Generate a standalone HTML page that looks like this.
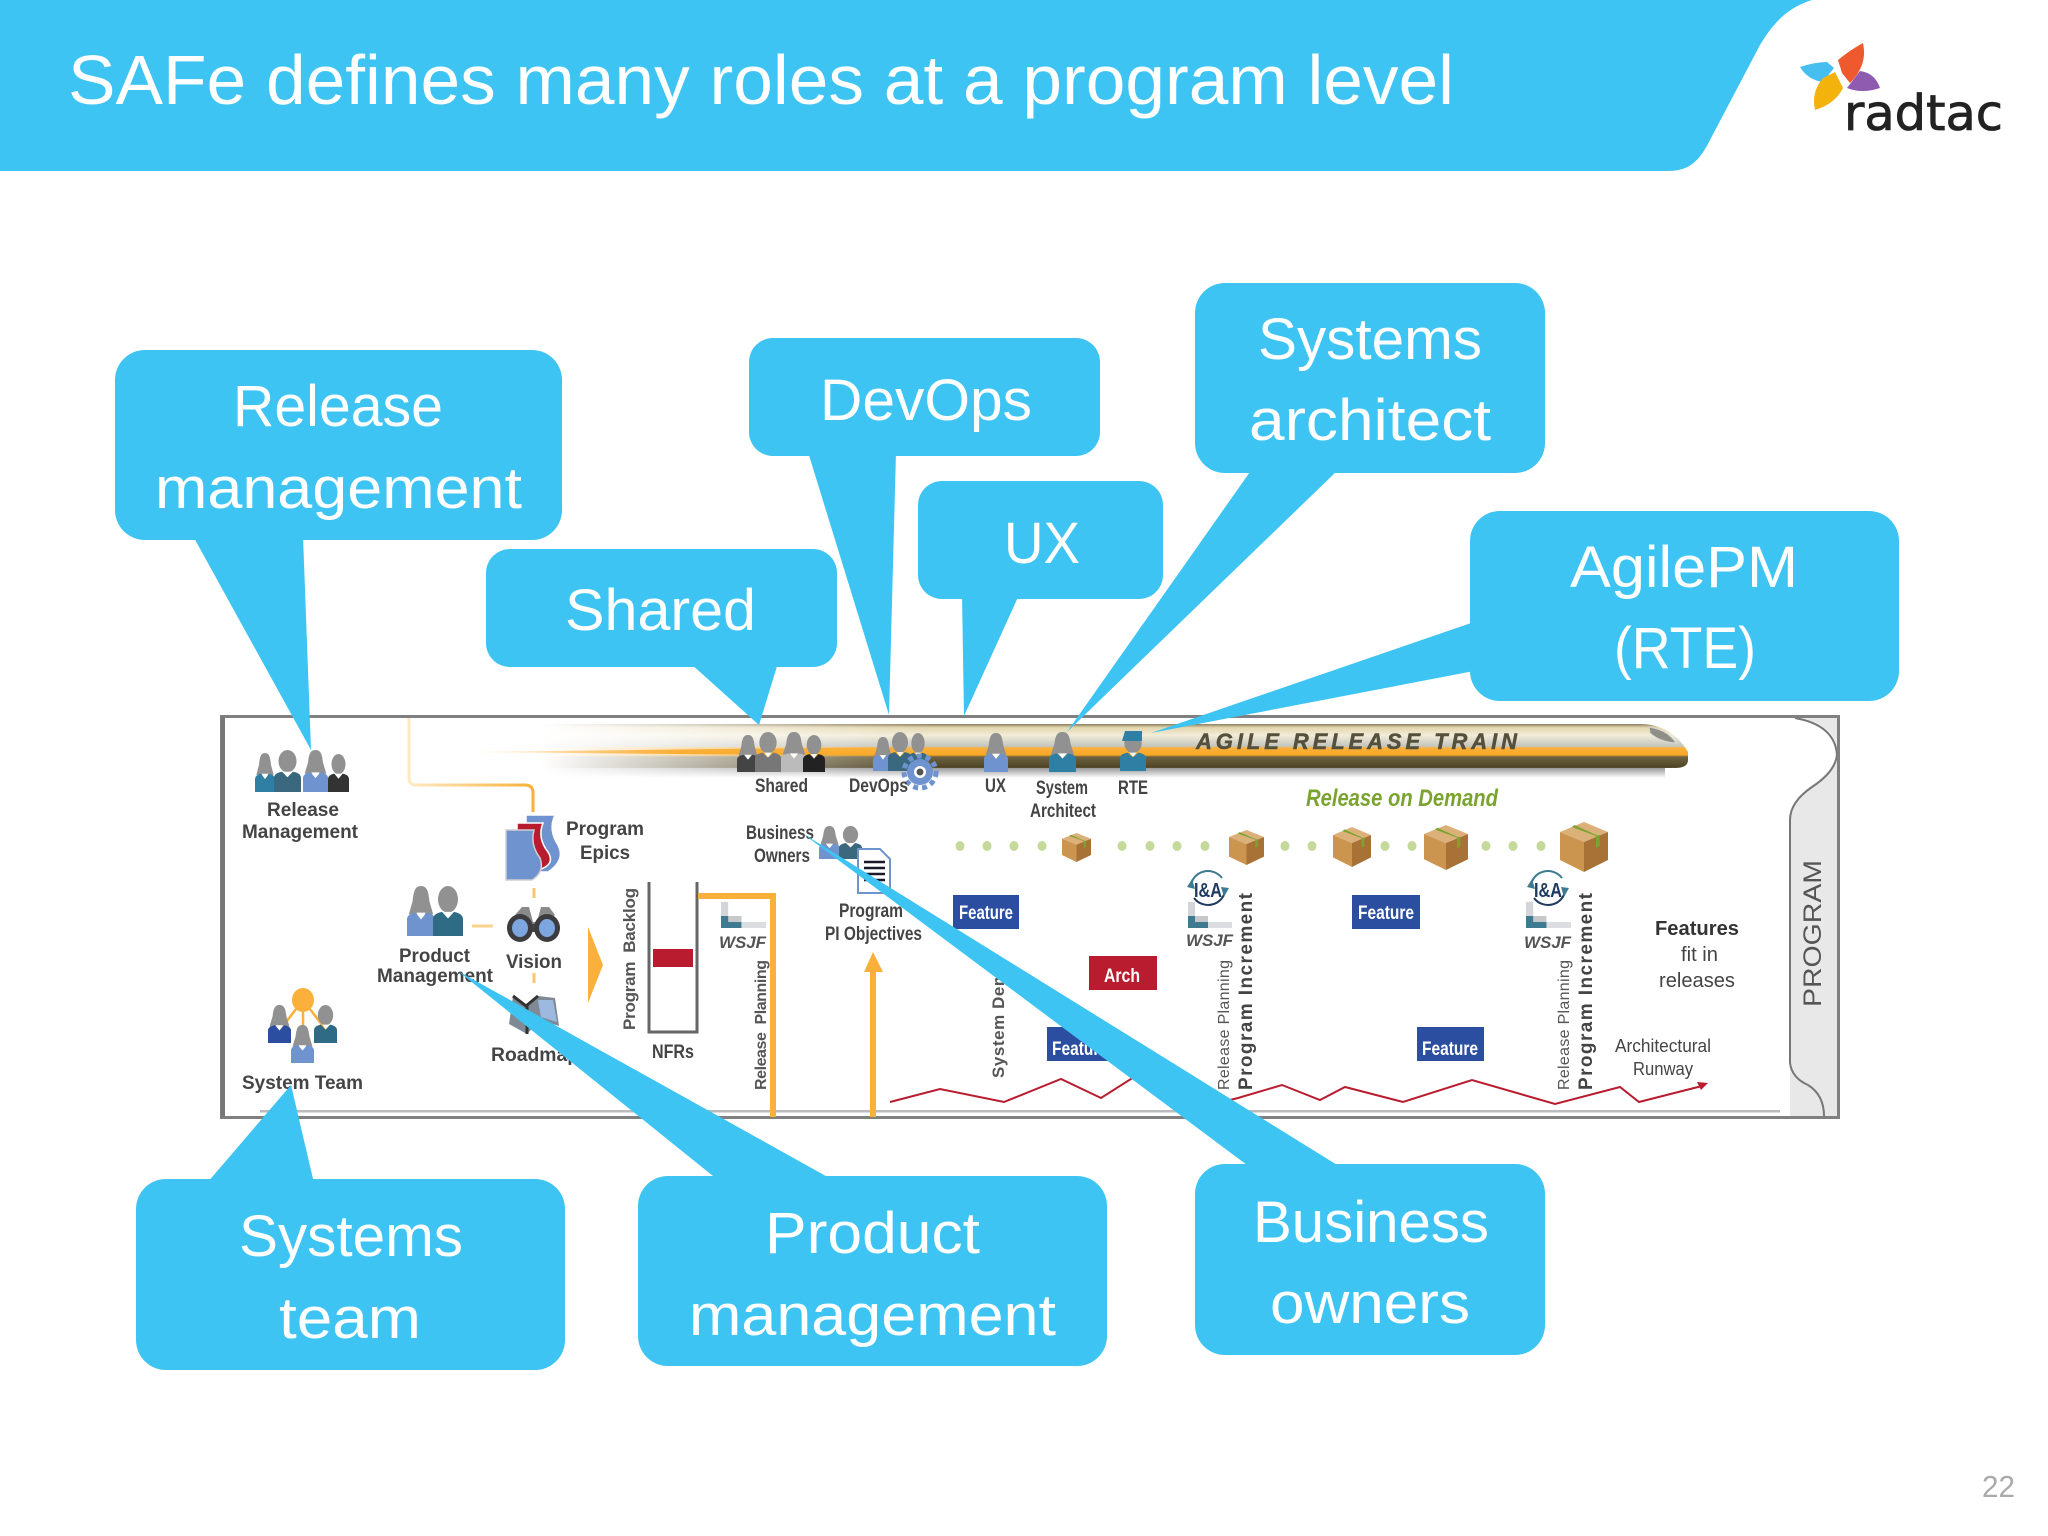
<!DOCTYPE html>
<html><head><meta charset="utf-8"><title>SAFe roles</title>
<style>
html,body{margin:0;padding:0;background:#fff}
svg{display:block}
text{font-family:"Liberation Sans",sans-serif}
.c{fill:#fff;font-size:58px;text-anchor:start}
.l{fill:#444;font-size:19px;font-weight:bold}
.n{fill:#444;font-size:18px}
.f{fill:#fff;font-size:19px;font-weight:bold}
.w{fill:#555;font-size:17px;font-weight:bold;font-style:italic}
.r{fill:#555;font-size:17px;font-weight:bold}
</style></head><body>
<svg width="2048" height="1536" viewBox="0 0 2048 1536" xmlns="http://www.w3.org/2000/svg">
<defs>
<symbol id="m" viewBox="0 0 30 60" preserveAspectRatio="none">
<ellipse cx="15" cy="16" rx="10" ry="16" fill="#919191"/>
<path d="M0 60V40Q0 33 9 31L15 39L21 31Q30 33 30 40V60Z" fill="currentColor"/>
<path d="M11 31L15 38L19 31Z" fill="#fff"/>
</symbol>
<symbol id="w" viewBox="0 0 30 60" preserveAspectRatio="none">
<path d="M15 0C8 0 7 8 6 18L2 34H28L24 18C23 8 22 0 15 0Z" fill="#919191"/>
<path d="M0 60V40Q0 34 9 32L15 40L21 32Q30 34 30 40V60Z" fill="currentColor"/>
<path d="M10 32L15 40L20 32Z" fill="#fff"/>
</symbol>
<symbol id="box" viewBox="0 0 40 50" preserveAspectRatio="none">
<path d="M0 10L20 0L40 10L20 20Z" fill="#dcb079"/>
<path d="M0 10L20 20V50L0 38Z" fill="#cb9550"/>
<path d="M40 10L20 20V50L40 38Z" fill="#a87136"/>
<path d="M12 3L32 14L32 17L30 14L10 5Z" fill="#7aa32f"/>
<path d="M30 14L33 13V24L30 26Z" fill="#7aa32f"/>
</symbol>
<symbol id="chart" viewBox="0 0 44 26" preserveAspectRatio="none">
<rect x="0" y="0" width="7" height="26" fill="#d3d5d8"/>
<rect x="0" y="20" width="44" height="6" fill="#dcdde0"/>
<rect x="0" y="14" width="20" height="12" fill="#c6c8cc"/>
<rect x="0" y="14" width="7" height="12" fill="#3e7a90"/>
<rect x="0" y="20" width="20" height="6" fill="#3e7a90"/>
</symbol>
<symbol id="ia" viewBox="0 0 44 36" preserveAspectRatio="none">
<path d="M5 16A17 16 0 0 1 36 8" fill="none" stroke="#3e7a90" stroke-width="2"/>
<path d="M39 20A17 16 0 0 1 8 28" fill="none" stroke="#1f3a60" stroke-width="2"/>
<path d="M1 17L6 9L9 19Z" fill="#3e7a90"/><path d="M43 18L38 27L35 17Z" fill="#3e7a90"/>
</symbol>
<linearGradient id="body" x1="0" y1="724" x2="0" y2="769" gradientUnits="userSpaceOnUse">
<stop offset="0" stop-color="#8c7f5e"/><stop offset=".08" stop-color="#e3d6ae"/>
<stop offset=".25" stop-color="#f2ecd8"/><stop offset=".5" stop-color="#c3c4bc"/>
<stop offset=".53" stop-color="#fbb03b"/><stop offset=".69" stop-color="#f7a823"/>
<stop offset=".73" stop-color="#6e623f"/><stop offset=".96" stop-color="#4f4526"/>
<stop offset="1" stop-color="#7c7768"/>
</linearGradient>
<linearGradient id="fade" x1="540" y1="0" x2="930" y2="0" gradientUnits="userSpaceOnUse">
<stop offset="0" stop-color="#000"/><stop offset="1" stop-color="#fff"/>
</linearGradient>
<mask id="tm" maskUnits="userSpaceOnUse" x="440" y="710" width="1300" height="80"><rect x="440" y="710" width="1300" height="80" fill="url(#fade)"/></mask>
<linearGradient id="st" x1="455" y1="0" x2="680" y2="0" gradientUnits="userSpaceOnUse">
<stop offset="0" stop-color="#fbb03b" stop-opacity="0"/><stop offset="1" stop-color="#fbb03b"/>
</linearGradient>
<linearGradient id="sh" x1="0" y1="768" x2="0" y2="778" gradientUnits="userSpaceOnUse">
<stop offset="0" stop-color="#999"/><stop offset="1" stop-color="#fff"/>
</linearGradient>
<linearGradient id="pale" x1="409" y1="0" x2="533" y2="0" gradientUnits="userSpaceOnUse">
<stop offset="0" stop-color="#fdeac4"/><stop offset="1" stop-color="#fbb03b"/>
</linearGradient>
</defs>

<rect width="2048" height="1536" fill="#fff"/>

<!-- header -->
<path d="M0 0H1812C1786 8 1772 25 1760 45L1710 140C1700 160 1690 171 1668 171H0Z" fill="#3DC4F3"/>
<text x="68" y="104" fill="#fff" font-size="70" textLength="1386" lengthAdjust="spacingAndGlyphs">SAFe defines many roles at a program level</text>

<!-- logo -->
<path d="M1800 67Q1815 62 1827 62L1834 68L1823 82Q1808 80 1800 67Z" fill="#46bff0"/>
<path d="M1815 110Q1811 92 1823 78L1835 72L1843 88Q1835 104 1815 110Z" fill="#f4b30c"/>
<path d="M1838 60Q1850 50 1863 43Q1868 65 1850 83L1842 73Z" fill="#ee5a2e"/>
<path d="M1847 88L1860 71Q1875 73 1880 88Q1862 94 1847 88Z" fill="#8e5bb0"/>
<text x="1844" y="130" fill="#222" stroke="#222" stroke-width="0.8" font-size="49" textLength="159" lengthAdjust="spacingAndGlyphs" style="font-family:'DejaVu Sans',sans-serif">radtac</text>

<text x="1982" y="1497" fill="#aaa" font-size="31" textLength="33" lengthAdjust="spacingAndGlyphs">22</text>

<!-- program frame -->
<path d="M1790 1118V817Q1792 800 1812 785Q1837 768 1837 750Q1835 725 1800 718H1838V1118Z" fill="#e8e8e8"/>
<path d="M1795 718Q1835 725 1837 755Q1835 772 1812 787Q1790 802 1790 820V1063Q1792 1078 1808 1085Q1824 1095 1824 1116" fill="none" stroke="#777" stroke-width="2"/>
<rect x="221.500" y="716.500" width="1617" height="401" fill="none" stroke="#808080" stroke-width="3"/>
<rect x="221" y="717" width="4" height="400" fill="#777"/>
<rect x="260" y="1110" width="1520" height="2.500" fill="#bbb"/>
<text transform="translate(1821 1007) rotate(-90)" fill="#555" font-size="25" textLength="147" lengthAdjust="spacingAndGlyphs">PROGRAM</text>

<!-- yellow link from top -->
<path d="M409 718V778Q409 785 416 785H525Q533 785 533 793V812" fill="none" stroke="url(#pale)" stroke-width="3"/>

<!-- train -->
<path d="M460 752L900 747V756Z" fill="url(#st)"/>
<g mask="url(#tm)">
<rect x="460" y="768" width="1205" height="10" fill="url(#sh)"/>
<path d="M460 724H1640C1665 724 1680 738 1688 752V760Q1688 768 1675 768H460Z" fill="url(#body)"/>
</g>
<path d="M1649 727Q1668 730 1676 743Q1660 742 1650 733Z" fill="#8f8f88" stroke="#d8d8d0" stroke-width="1"/>
<text x="1196" y="749" class="w" stroke="#55503c" stroke-width="0.5" style="font-size:22px;fill:#55503c" textLength="321" lengthAdjust="spacing">AGILE RELEASE TRAIN</text>

<!-- people: train -->
<use href="#w" x="737" y="735" width="22" height="37" color="#444"/>
<use href="#m" x="755" y="732" width="26" height="40" color="#777"/>
<use href="#w" x="781" y="732" width="26" height="40" color="#bbb"/>
<use href="#m" x="803" y="735" width="22" height="37" color="#222"/>
<use href="#w" x="873" y="737" width="20" height="34" color="#6f93cf"/>
<use href="#m" x="888" y="732" width="24" height="39" color="#39687f"/>
<use href="#m" x="908" y="733" width="20" height="38" color="#39687f"/>
<g fill="#6f93cf"><circle cx="920" cy="772" r="13"/><circle cx="920" cy="772" r="16" fill="none" stroke="#6f93cf" stroke-width="5" stroke-dasharray="5 4"/></g>
<circle cx="920" cy="772" r="6" fill="#fff"/><circle cx="920" cy="772" r="3.500" fill="#555"/>
<use href="#w" x="984" y="733" width="24" height="39" color="#6f93cf"/>
<use href="#w" x="1049" y="732" width="27" height="40" color="#2f7fa5"/>
<use href="#m" x="1120" y="733" width="26" height="38" color="#2f7fa5"/>
<path d="M1125 731H1142V741H1122Z" fill="#2f7fa5"/>

<!-- labels top row -->
<text x="755" y="792" class="l" textLength="53" lengthAdjust="spacingAndGlyphs">Shared</text>
<text x="849" y="792" class="l" textLength="59" lengthAdjust="spacingAndGlyphs">DevOps</text>
<text x="985" y="792" class="l" textLength="21" lengthAdjust="spacingAndGlyphs">UX</text>
<text x="1036" y="794" class="l" textLength="52" lengthAdjust="spacingAndGlyphs">System</text>
<text x="1030" y="817" class="l" textLength="66" lengthAdjust="spacingAndGlyphs">Architect</text>
<text x="1118" y="794" class="l" textLength="30" lengthAdjust="spacingAndGlyphs">RTE</text>
<text x="1306" y="806" fill="#7aa32f" font-size="24" font-weight="bold" font-style="italic" textLength="192" lengthAdjust="spacingAndGlyphs">Release on Demand</text>

<!-- release management -->
<use href="#w" x="255" y="753" width="20" height="39" color="#2f7fa5"/>
<use href="#m" x="274" y="750" width="27" height="42" color="#39687f"/>
<use href="#w" x="303" y="750" width="25" height="42" color="#6f93cf"/>
<use href="#m" x="328" y="754" width="21" height="38" color="#333"/>
<text x="267" y="816" class="l" textLength="72" lengthAdjust="spacingAndGlyphs">Release</text>
<text x="242" y="838" class="l" textLength="116" lengthAdjust="spacingAndGlyphs">Management</text>

<!-- epics -->
<path d="M526 815H555Q548 830 558 845Q566 860 548 872H526Z" fill="#6f93cf" stroke="#fff" stroke-width="1.500"/>
<path d="M517 823H543Q537 838 548 852Q556 865 538 870H517Z" fill="#b81c2e" stroke="#fff" stroke-width="1.500"/>
<path d="M506 830H534Q530 845 540 858Q545 872 532 880H506Z" fill="#6f93cf" stroke="#d0d0d0" stroke-width="1.500"/>
<text x="566" y="835" class="l" textLength="78" lengthAdjust="spacingAndGlyphs">Program</text>
<text x="580" y="859" class="l" textLength="50" lengthAdjust="spacingAndGlyphs">Epics</text>
<path d="M534 888V898M534 973V983" stroke="#fbc56e" stroke-width="3" fill="none"/>
<path d="M472 926H493" stroke="#fbd38c" stroke-width="3" fill="none"/>

<!-- product management -->
<use href="#w" x="407" y="886" width="28" height="50" color="#6f93cf"/>
<use href="#m" x="433" y="886" width="30" height="50" color="#2f6b85"/>
<text x="399" y="962" class="l" textLength="71" lengthAdjust="spacingAndGlyphs">Product</text>
<text x="377" y="982" class="l" textLength="116" lengthAdjust="spacingAndGlyphs">Management</text>

<!-- vision -->
<path d="M515 915L522 907H529L533 922H537L541 907H549L555 915L545 925H525Z" fill="#8a8a8a"/>
<rect x="530" y="924" width="10" height="8" fill="#444"/>
<ellipse cx="520" cy="928" rx="13" ry="14" fill="#3b3b40"/><ellipse cx="547" cy="928" rx="13" ry="14" fill="#3b3b40"/>
<ellipse cx="520" cy="928" rx="8" ry="9" fill="#7ea6de"/><ellipse cx="547" cy="928" rx="8" ry="9" fill="#7ea6de"/>
<text x="506" y="968" class="l" textLength="56" lengthAdjust="spacingAndGlyphs">Vision</text>

<!-- roadmap -->
<path d="M513 996L526 1006L538 996L555 998L559 1026L540 1020L527 1034L509 1024Z" fill="#7f8a96"/>
<path d="M538 1000L553 1000L557 1022L541 1017Z" fill="#9db9e0"/>
<path d="M513 996L526 1006L538 996M527 1006V1034" stroke="#333" stroke-width="3" fill="none"/>
<text x="491" y="1061" class="l" textLength="88" lengthAdjust="spacingAndGlyphs">Roadmap</text>

<!-- triangle -->
<path d="M588 927L603 965L588 1003Z" fill="#fbb03b"/>

<!-- backlog -->
<text transform="translate(635 1030) rotate(-90)" class="r" textLength="142" lengthAdjust="spacing">Program&#160; Backlog</text>
<path d="M649 882V1032H697V882" fill="none" stroke="#666" stroke-width="3"/>
<rect x="653" y="949" width="40" height="18" fill="#b81c2e"/>
<text x="652" y="1058" class="l" textLength="42" lengthAdjust="spacingAndGlyphs">NFRs</text>
<path d="M698 896H773V1117" fill="none" stroke="#fbb03b" stroke-width="6"/>
<use href="#chart" x="721" y="902" width="45" height="26"/>
<text x="719" y="948" class="w" style="font-size:17px" textLength="47">WSJF</text>
<text transform="translate(766 1090) rotate(-90)" class="r" style="font-size:16px" textLength="130" lengthAdjust="spacing">Release&#160; Planning</text>

<!-- arrow up -->
<rect x="870" y="970" width="6" height="147" fill="#fbb03b"/>
<path d="M873 952L883 972H864Z" fill="#fbb03b"/>

<!-- business owners -->
<use href="#w" x="819" y="826" width="21" height="33" color="#6f93cf"/>
<use href="#m" x="839" y="826" width="23" height="33" color="#39687f"/>
<path d="M858 849H880L890 859V893H858Z" fill="#fff" stroke="#6f93cf" stroke-width="2"/>
<path d="M864 862H885M864 868H885M864 874H885M864 880H885" stroke="#1a1a2a" stroke-width="2.500"/>
<text x="746" y="839" class="l" textLength="68" lengthAdjust="spacingAndGlyphs">Business</text>
<text x="754" y="862" class="l" textLength="56" lengthAdjust="spacingAndGlyphs">Owners</text>
<text x="839" y="917" class="l" textLength="64" lengthAdjust="spacingAndGlyphs">Program</text>
<text x="825" y="940" class="l" textLength="97" lengthAdjust="spacingAndGlyphs">PI Objectives</text>

<!-- dots -->
<g fill="#c5d99a">
<ellipse cx="960" cy="846" rx="4.500" ry="5"/><ellipse cx="987" cy="846" rx="4.500" ry="5"/><ellipse cx="1014" cy="846" rx="4.500" ry="5"/><ellipse cx="1042" cy="846" rx="4.500" ry="5"/>
<ellipse cx="1122" cy="846" rx="4.500" ry="5"/><ellipse cx="1150" cy="846" rx="4.500" ry="5"/><ellipse cx="1177" cy="846" rx="4.500" ry="5"/><ellipse cx="1205" cy="846" rx="4.500" ry="5"/>
<ellipse cx="1285" cy="846" rx="4.500" ry="5"/><ellipse cx="1312" cy="846" rx="4.500" ry="5"/><ellipse cx="1385" cy="846" rx="4.500" ry="5"/><ellipse cx="1412" cy="846" rx="4.500" ry="5"/>
<ellipse cx="1486" cy="846" rx="4.500" ry="5"/><ellipse cx="1513" cy="846" rx="4.500" ry="5"/><ellipse cx="1541" cy="846" rx="4.500" ry="5"/>
</g>
<use href="#box" x="1062" y="833" width="29" height="29"/>
<use href="#box" x="1229" y="830" width="35" height="35"/>
<use href="#box" x="1333" y="827" width="38" height="40"/>
<use href="#box" x="1424" y="825" width="44" height="45"/>
<use href="#box" x="1560" y="822" width="48" height="50"/>

<!-- features -->
<rect x="953" y="895" width="66" height="34" fill="#2b4ea0"/>
<text x="959" y="919" class="f" textLength="54" lengthAdjust="spacingAndGlyphs">Feature</text>
<rect x="1352" y="895" width="68" height="34" fill="#2b4ea0"/>
<text x="1358" y="919" class="f" textLength="56" lengthAdjust="spacingAndGlyphs">Feature</text>
<rect x="1417" y="1027" width="67" height="34" fill="#2b4ea0"/>
<text x="1422" y="1055" class="f" textLength="56" lengthAdjust="spacingAndGlyphs">Feature</text>
<rect x="1047" y="1027" width="67" height="34" fill="#2b4ea0"/>
<text x="1052" y="1055" class="f" textLength="56" lengthAdjust="spacingAndGlyphs">Feature</text>
<rect x="1089" y="956" width="68" height="34" fill="#b81c2e"/>
<text x="1104" y="982" class="f" textLength="36" lengthAdjust="spacingAndGlyphs">Arch</text>

<text transform="translate(1004 1078) rotate(-90)" class="r" textLength="118" lengthAdjust="spacing">System Demo</text>

<!-- I&A and WSJF -->
<use href="#ia" x="1186" y="870" width="44" height="36"/>
<use href="#ia" x="1526" y="870" width="44" height="36"/>
<text x="1194" y="897" fill="#1f3a60" font-size="20" font-weight="bold" textLength="28" lengthAdjust="spacingAndGlyphs">I&amp;A</text>
<text x="1534" y="897" fill="#1f3a60" font-size="20" font-weight="bold" textLength="28" lengthAdjust="spacingAndGlyphs">I&amp;A</text>
<use href="#chart" x="1188" y="902" width="44" height="26"/>
<use href="#chart" x="1526" y="902" width="45" height="26"/>
<text x="1186" y="946" class="w" textLength="47">WSJF</text>
<text x="1524" y="948" class="w" textLength="47">WSJF</text>

<text transform="translate(1229 1090) rotate(-90)" class="r" style="font-size:16px;font-weight:normal" textLength="130" lengthAdjust="spacing">Release Planning</text>
<text transform="translate(1252 1090) rotate(-90)" class="r" style="font-size:19px;fill:#444" textLength="197" lengthAdjust="spacing">Program Increment</text>
<text transform="translate(1569 1090) rotate(-90)" class="r" style="font-size:16px;font-weight:normal" textLength="130" lengthAdjust="spacing">Release Planning</text>
<text transform="translate(1592 1090) rotate(-90)" class="r" style="font-size:19px;fill:#444" textLength="197" lengthAdjust="spacing">Program Increment</text>

<text x="1655" y="935" font-size="20" font-weight="bold" fill="#333" textLength="84" lengthAdjust="spacingAndGlyphs">Features</text>
<text x="1681" y="961" font-size="20" fill="#444" textLength="37" lengthAdjust="spacingAndGlyphs">fit in</text>
<text x="1659" y="987" font-size="20" fill="#444" textLength="76" lengthAdjust="spacingAndGlyphs">releases</text>
<text x="1615" y="1052" class="n" textLength="96" lengthAdjust="spacingAndGlyphs">Architectural</text>
<text x="1633" y="1075" class="n" textLength="60" lengthAdjust="spacingAndGlyphs">Runway</text>

<!-- runway line -->
<path d="M890 1102L940 1089L1004 1102L1061 1079L1101 1098L1134 1077L1190 1110L1238 1098L1282 1085L1320 1100L1345 1087L1403 1102L1472 1080L1555 1104L1620 1087L1639 1102L1702 1086" fill="none" stroke="#b81c2e" stroke-width="2"/>
<path d="M1708 1083L1697 1082L1701 1090Z" fill="#b81c2e"/>

<!-- system team -->
<path d="M303 1000L280 1030M303 1000L326 1030M303 1000V1040" stroke="#fbb03b" stroke-width="2.500" fill="none"/>
<ellipse cx="303" cy="1000" rx="11" ry="12" fill="#fbb03b"/>
<use href="#w" x="268" y="1005" width="23" height="38" color="#2b4ea0"/>
<use href="#m" x="314" y="1005" width="23" height="38" color="#2f6b85"/>
<use href="#w" x="291" y="1025" width="23" height="38" color="#6f93cf"/>
<text x="242" y="1089" class="l" textLength="121" lengthAdjust="spacingAndGlyphs">System Team</text>

<!-- callouts -->
<g fill="#3DC4F3">
<rect x="115" y="350" width="447" height="190" rx="30"/><path d="M193 536H303L311 750Z"/>
<rect x="749" y="338" width="351" height="118" rx="24"/><path d="M808 452H896L889 715Z"/>
<rect x="486" y="549" width="351" height="118" rx="24"/><path d="M690 663H778L759 725Z"/>
<rect x="918" y="481" width="245" height="118" rx="24"/><path d="M962 595H1019L964 716Z"/>
<rect x="1195" y="283" width="350" height="190" rx="30"/><path d="M1252 469H1339L1067 732Z"/>
<rect x="1470" y="511" width="429" height="190" rx="30"/><path d="M1474 622V671L1151 733Z"/>
<rect x="136" y="1179" width="429" height="191" rx="30"/><path d="M207 1183H314L291 1085Z"/>
<rect x="638" y="1176" width="469" height="190" rx="30"/><path d="M718 1180H833L458 971Z"/>
<rect x="1195" y="1164" width="350" height="191" rx="30"/><path d="M1251 1168H1342L802 833Z"/>
</g>
<g transform="translate(0 -2)">
<text class="c" x="233" y="428" textLength="210" lengthAdjust="spacingAndGlyphs">Release</text>
<text class="c" x="155" y="510" textLength="367" lengthAdjust="spacingAndGlyphs">management</text>
<text class="c" x="820" y="422" textLength="212" lengthAdjust="spacingAndGlyphs">DevOps</text>
<text class="c" x="565" y="632" textLength="191" lengthAdjust="spacingAndGlyphs">Shared</text>
<text class="c" x="1004" y="565" textLength="76" lengthAdjust="spacingAndGlyphs">UX</text>
<text class="c" x="1258" y="361" textLength="224" lengthAdjust="spacingAndGlyphs">Systems</text>
<text class="c" x="1249" y="442" textLength="242" lengthAdjust="spacingAndGlyphs">architect</text>
<text class="c" x="1570" y="589" textLength="228" lengthAdjust="spacingAndGlyphs">AgilePM</text>
<text class="c" x="1614" y="670" textLength="142" lengthAdjust="spacingAndGlyphs">(RTE)</text>
<text class="c" x="239" y="1258" textLength="224" lengthAdjust="spacingAndGlyphs">Systems</text>
<text class="c" x="279" y="1340" textLength="142" lengthAdjust="spacingAndGlyphs">team</text>
<text class="c" x="765" y="1255" textLength="215" lengthAdjust="spacingAndGlyphs">Product</text>
<text class="c" x="689" y="1337" textLength="367" lengthAdjust="spacingAndGlyphs">management</text>
<text class="c" x="1253" y="1244" textLength="236" lengthAdjust="spacingAndGlyphs">Business</text>
<text class="c" x="1270" y="1325" textLength="200" lengthAdjust="spacingAndGlyphs">owners</text>
</g>
</svg>
</body></html>
